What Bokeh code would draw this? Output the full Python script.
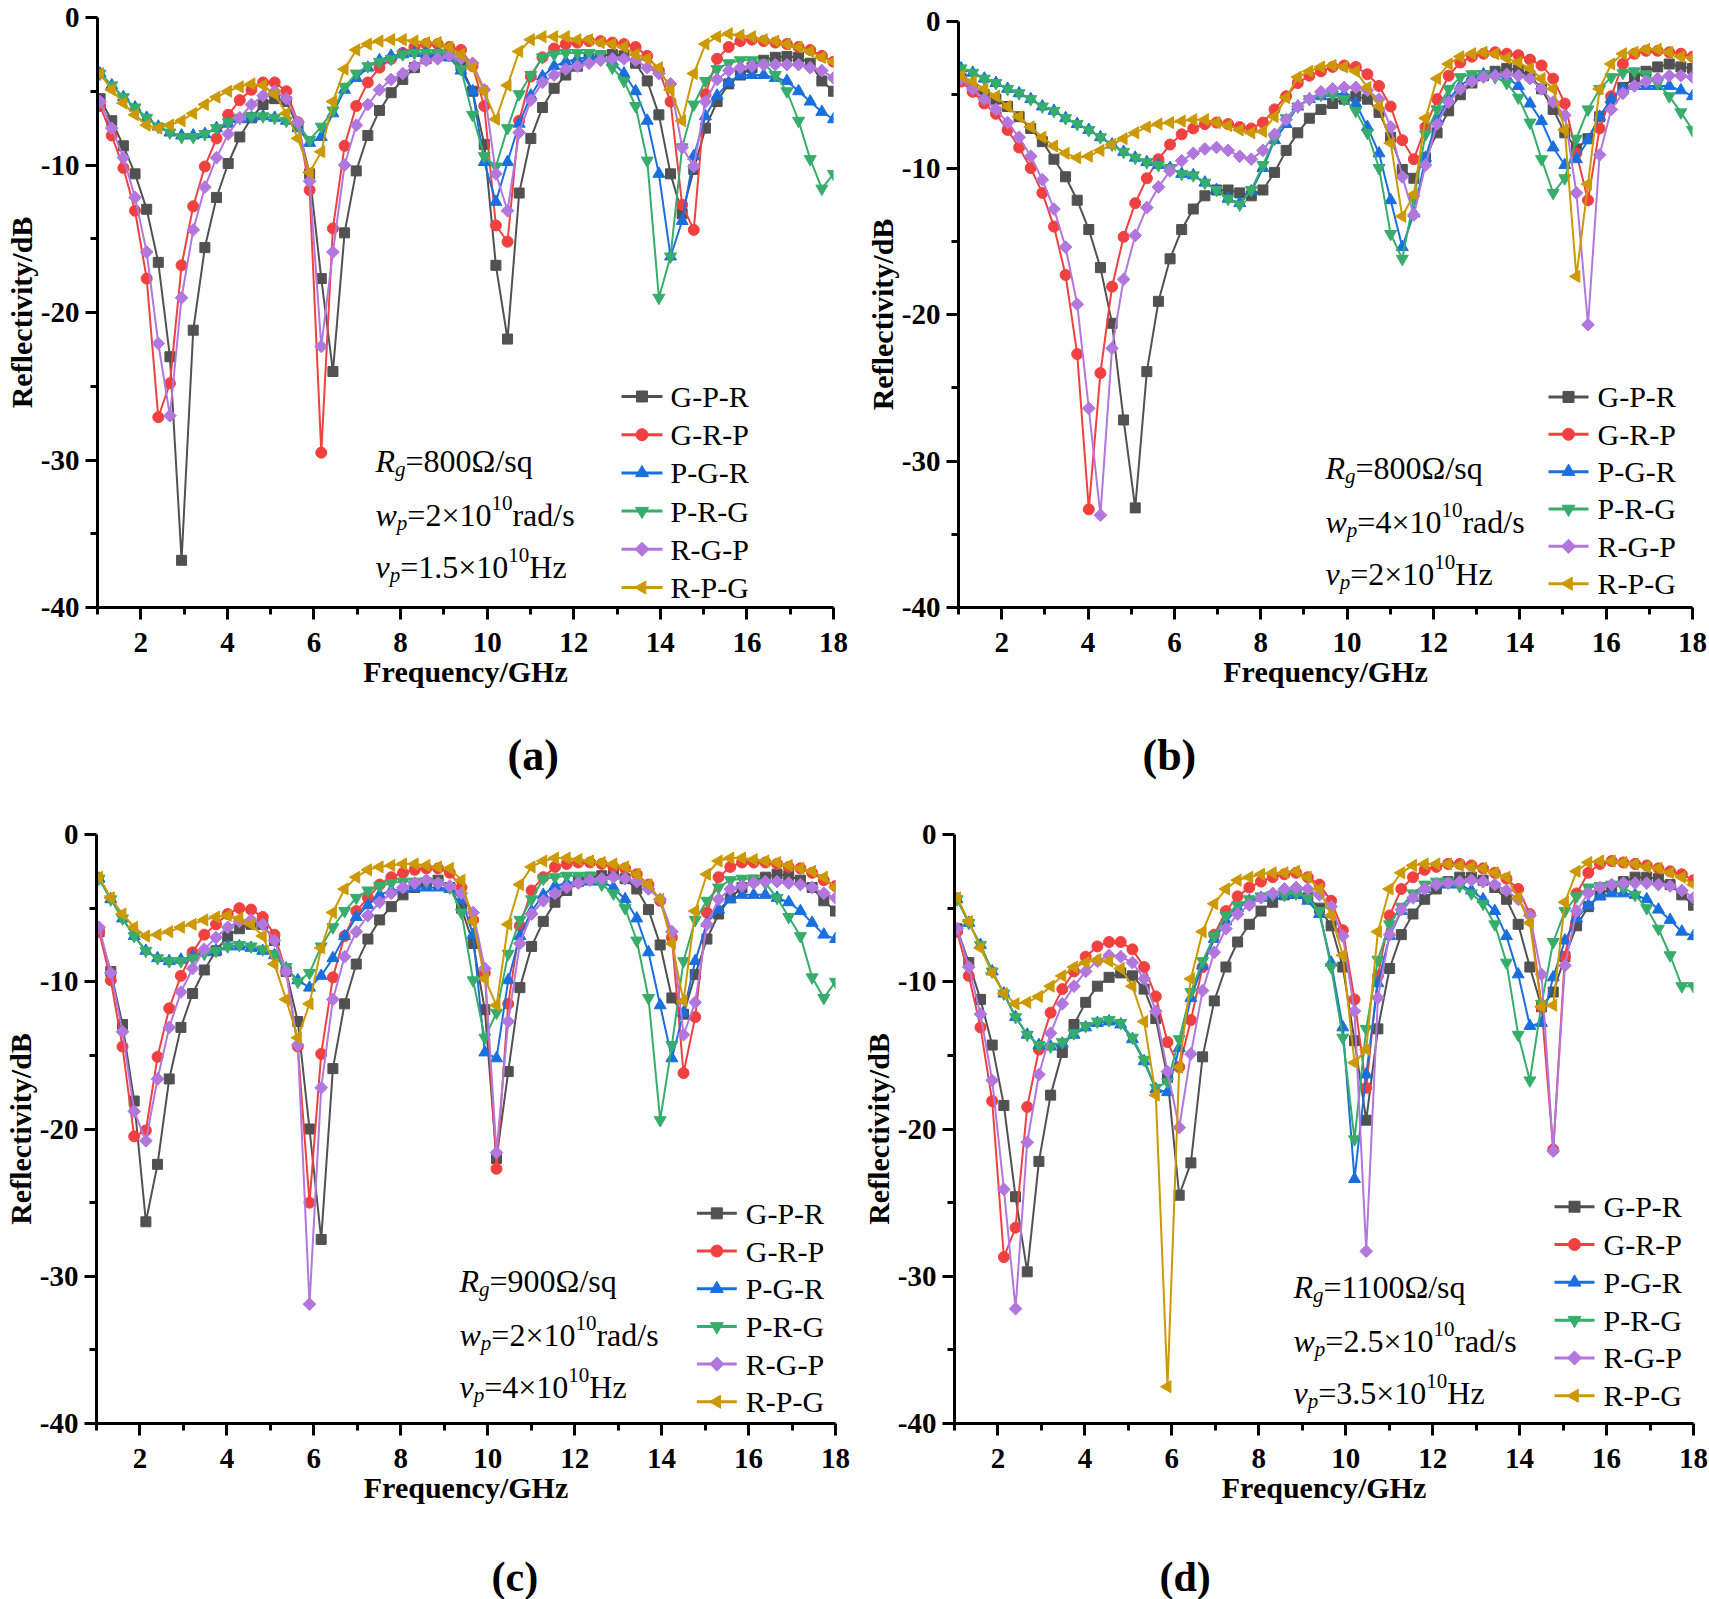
import numpy as np
from bokeh.plotting import figure
from bokeh.layouts import column, row
from bokeh.models import Range1d, FixedTicker, Label, Title, CustomJSTickFormatter
from bokeh.embed import file_html
from bokeh.resources import INLINE

# Sampled frequency grid (GHz)
FREQ = np.round(np.linspace(1.06, 18.0, 64), 3)

ORDERS = ["G-P-R", "G-R-P", "P-G-R", "P-R-G", "R-G-P", "R-P-G"]
COLORS = ["#515151", "#F14040", "#1A6FDF", "#37AD6B", "#B177DE", "#CC9900"]

# ---- (a) Rg=800, wp=2e10, vp=1.5e10 ----
A_GPR = [-5.5, -7.0, -8.7, -10.6, -13.0, -16.6, -23.0, -36.8, -21.2, -15.6,
         -12.2, -9.9, -8.1, -6.8, -5.9, -5.5, -5.7, -7.4, -10.6, -17.7,
         -24.0, -14.6, -10.4, -8.0, -6.3, -5.1, -4.2, -3.4, -2.8, -2.6,
         -2.6, -3.3, -5.0, -8.6, -16.8, -21.8, -11.9, -8.2, -6.1, -4.8,
         -3.9, -3.3, -2.8, -2.6, -2.5, -2.6, -3.1, -4.3, -6.6, -10.6,
         -13.3, -10.3, -7.5, -5.7, -4.5, -3.9, -3.4, -2.9, -2.7, -2.65,
         -2.7, -3.1, -4.3, -5.0]
A_GRP = [-6.0, -8.0, -10.2, -13.1, -17.7, -27.1, -24.8, -16.8, -12.8, -10.1,
         -8.2, -6.6, -5.6, -4.9, -4.4, -4.4, -5.0, -7.1, -11.7, -29.5,
         -14.3, -8.7, -6.0, -4.4, -3.4, -2.8, -2.4, -2.0, -1.8, -1.8,
         -2.0, -2.2, -3.3, -6.0, -14.1, -15.2, -7.0, -4.0, -2.7, -2.1,
         -1.8, -1.7, -1.6, -1.6, -1.7, -1.8, -2.0, -2.6, -3.6, -5.7,
         -12.7, -14.4, -5.2, -2.8, -2.0, -1.6, -1.5, -1.6, -1.7, -1.8,
         -2.0, -2.2, -2.6, -3.0]
A_PGR = [-3.8, -4.6, -5.4, -6.1, -6.8, -7.4, -7.8, -8.0, -8.0, -7.9,
         -7.5, -7.2, -6.9, -6.8, -6.7, -6.8, -7.0, -7.5, -8.5, -8.1,
         -6.5, -4.9, -4.1, -3.4, -2.9, -2.6, -2.5, -2.4, -2.4, -2.5,
         -2.7, -3.6, -5.0, -9.8, -12.5, -9.8, -7.2, -5.3, -4.0, -3.3,
         -3.0, -2.8, -2.7, -2.7, -3.0, -3.8, -5.0, -7.0, -10.6, -16.2,
         -13.8, -9.4, -6.7, -5.3, -4.4, -3.9, -3.9, -3.9, -4.1, -4.3,
         -5.0, -5.7, -6.4, -6.9]
A_PRG = [-3.8, -4.6, -5.4, -6.1, -6.8, -7.4, -7.8, -8.1, -8.1, -7.9,
         -7.5, -7.1, -6.8, -6.7, -6.7, -6.8, -7.0, -7.3, -8.3, -7.4,
         -6.3, -4.7, -3.8, -3.3, -3.0, -2.8, -2.5, -2.4, -2.4, -2.4,
         -2.5, -3.5, -6.6, -9.4, -10.1, -7.5, -5.2, -3.9, -2.7, -2.5,
         -2.4, -2.4, -2.4, -2.5, -3.4, -4.3, -6.0, -9.7, -19.0, -16.2,
         -8.8, -5.9, -4.3, -3.5, -3.1, -2.9, -2.9, -3.1, -3.9, -5.0,
         -7.0, -9.6, -11.6, -10.6]
A_RGP = [-5.7, -7.5, -9.5, -12.2, -15.9, -22.1, -27.0, -19.0, -14.4, -11.5,
         -9.5, -7.9, -6.8, -5.9, -5.3, -5.0, -5.5, -7.1, -11.1, -22.3,
         -15.9, -10.0, -7.3, -5.9, -4.9, -4.2, -3.8, -3.3, -2.9, -2.8,
         -2.6, -2.8, -3.1, -4.9, -10.6, -13.1, -7.8, -5.6, -4.4, -3.9,
         -3.5, -3.3, -3.1, -2.9, -2.8, -2.8, -2.9, -3.4, -3.8, -4.5,
         -8.8, -10.1, -5.7, -4.2, -3.6, -3.4, -3.3, -3.2, -3.2, -3.2,
         -3.2, -3.4, -3.6, -4.1]
A_RPG = [-3.8, -4.9, -5.8, -6.6, -7.3, -7.5, -7.3, -7.0, -6.5, -5.9,
         -5.4, -5.0, -4.7, -4.5, -4.6, -5.2, -6.5, -8.2, -10.5, -9.1,
         -5.7, -3.5, -2.2, -1.8, -1.6, -1.5, -1.5, -1.6, -1.7, -1.7,
         -2.0, -2.5, -3.4, -5.0, -6.9, -4.6, -2.3, -1.5, -1.3, -1.3,
         -1.3, -1.5, -1.5, -1.7, -1.8, -2.0, -2.5, -2.8, -3.4, -4.9,
         -7.0, -3.8, -1.8, -1.3, -1.1, -1.2, -1.3, -1.5, -1.6, -1.8,
         -2.0, -2.3, -2.7, -3.0]

# ---- (b) Rg=800, wp=4e10, vp=2e10 ----
B_GPR = [-3.9, -4.6, -5.0, -5.3, -5.8, -6.5, -7.3, -8.2, -9.4, -10.6,
         -12.2, -14.2, -16.8, -20.6, -27.2, -33.2, -23.9, -19.1, -16.2, -14.2,
         -12.8, -11.9, -11.5, -11.5, -11.7, -11.9, -11.5, -10.3, -8.8, -7.6,
         -6.6, -6.0, -5.6, -5.3, -5.1, -5.3, -6.2, -7.9, -10.1, -10.7,
         -9.3, -7.6, -6.1, -5.0, -4.2, -3.7, -3.4, -3.2, -3.3, -3.7,
         -4.6, -6.0, -7.6, -8.7, -8.0, -6.5, -5.3, -4.5, -3.8, -3.4,
         -3.1, -2.9, -3.1, -3.2]
B_GRP = [-4.1, -4.8, -5.6, -6.3, -7.4, -8.6, -10.0, -11.7, -14.0, -17.3,
         -22.7, -33.3, -24.0, -18.1, -14.7, -12.4, -10.7, -9.4, -8.4, -7.7,
         -7.3, -7.0, -6.9, -7.0, -7.2, -7.3, -6.9, -6.0, -5.1, -4.2,
         -3.7, -3.4, -3.1, -3.0, -3.1, -3.6, -4.4, -5.8, -8.1, -9.4,
         -7.2, -5.3, -3.7, -2.8, -2.4, -2.2, -2.1, -2.2, -2.3, -2.6,
         -3.0, -3.9, -5.6, -9.0, -12.2, -7.3, -5.1, -2.9, -2.2, -2.0,
         -2.0, -2.1, -2.2, -2.4]
B_PGR = [-3.2, -3.5, -3.9, -4.2, -4.6, -4.9, -5.3, -5.8, -6.1, -6.6,
         -7.0, -7.4, -7.9, -8.4, -8.9, -9.3, -9.6, -9.8, -10.0, -10.4,
         -10.5, -11.0, -11.5, -12.1, -12.4, -11.6, -10.0, -8.1, -7.0, -5.8,
         -5.3, -5.1, -4.9, -5.0, -5.6, -7.2, -9.0, -12.2, -15.4, -13.1,
         -9.3, -6.7, -5.3, -4.4, -3.8, -3.6, -3.6, -3.8, -4.4, -5.6,
         -6.8, -8.6, -9.8, -9.4, -8.1, -6.5, -5.3, -4.6, -4.4, -4.4,
         -4.4, -4.4, -4.7, -5.1]
B_PRG = [-3.2, -3.5, -3.9, -4.2, -4.6, -4.9, -5.3, -5.8, -6.1, -6.6,
         -7.0, -7.4, -7.9, -8.4, -8.9, -9.3, -9.6, -9.8, -10.0, -10.4,
         -10.5, -11.0, -11.5, -12.1, -12.5, -11.5, -9.8, -8.0, -6.6, -5.8,
         -5.3, -5.0, -5.0, -5.3, -6.1, -7.6, -10.0, -14.5, -16.2, -12.1,
         -7.7, -6.0, -4.6, -3.8, -3.6, -3.6, -3.8, -4.2, -5.2, -6.9,
         -9.4, -11.7, -10.7, -8.0, -6.0, -4.6, -3.8, -3.5, -3.4, -3.6,
         -4.2, -5.1, -6.2, -7.4]
B_RGP = [-3.9, -4.6, -5.3, -6.0, -6.9, -7.9, -9.2, -10.8, -12.8, -15.4,
         -19.3, -26.4, -33.7, -22.3, -17.6, -14.6, -12.7, -11.3, -10.2, -9.5,
         -9.0, -8.7, -8.6, -8.8, -9.2, -9.4, -8.8, -7.7, -6.7, -5.8,
         -5.3, -4.8, -4.6, -4.5, -4.5, -4.7, -5.3, -7.2, -10.6, -13.2,
         -9.8, -7.0, -5.5, -4.6, -4.1, -3.8, -3.7, -3.6, -3.7, -3.9,
         -4.6, -5.5, -6.4, -11.7, -20.7, -9.1, -6.0, -4.9, -4.4, -4.1,
         -3.9, -3.7, -3.7, -3.8]
B_RPG = [-3.7, -4.1, -4.6, -5.1, -5.8, -6.5, -7.2, -7.9, -8.5, -9.0,
         -9.3, -9.2, -8.8, -8.4, -8.0, -7.6, -7.2, -7.0, -6.9, -6.8,
         -6.7, -6.7, -6.9, -7.1, -7.4, -7.6, -7.5, -6.5, -5.2, -3.8,
         -3.4, -3.1, -3.0, -3.1, -3.4, -4.5, -5.8, -8.3, -13.3, -11.8,
         -6.6, -3.9, -2.9, -2.4, -2.2, -2.1, -2.2, -2.5, -2.8, -3.2,
         -3.9, -4.6, -7.4, -17.4, -11.1, -4.6, -2.9, -2.2, -2.1, -1.9,
         -1.9, -2.1, -2.4, -2.5]

# ---- (c) Rg=900, wp=2e10, vp=4e10 ----
C_GPR = [-6.6, -9.3, -12.9, -18.1, -26.3, -22.4, -16.6, -13.1, -10.8, -9.2,
         -7.9, -6.9, -6.4, -6.1, -6.1, -7.2, -9.3, -12.7, -20.0, -27.5,
         -15.9, -11.5, -8.8, -7.1, -5.8, -4.9, -4.1, -3.6, -3.3, -3.1,
         -3.6, -5.0, -7.4, -11.9, -22.0, -16.1, -10.4, -7.6, -5.9, -4.6,
         -3.8, -3.2, -2.9, -2.8, -2.7, -3.0, -3.7, -5.1, -7.5, -11.1,
         -12.2, -9.5, -7.1, -5.4, -4.3, -3.6, -3.1, -2.9, -2.7, -2.8,
         -3.1, -3.6, -4.5, -5.2]
C_GRP = [-6.6, -9.9, -14.4, -20.5, -20.1, -15.1, -11.8, -9.6, -8.0, -6.8,
         -6.1, -5.4, -5.0, -5.1, -5.6, -6.8, -9.3, -14.4, -25.0, -14.9,
         -9.7, -6.9, -5.2, -4.3, -3.4, -2.9, -2.6, -2.4, -2.3, -2.3,
         -2.6, -3.6, -5.8, -9.4, -22.7, -11.5, -6.2, -3.8, -2.9, -2.2,
         -2.0, -1.9, -1.9, -2.0, -2.2, -2.3, -2.7, -3.4, -4.5, -7.0,
         -16.2, -12.4, -5.3, -2.9, -2.2, -1.9, -1.9, -1.9, -2.0, -2.2,
         -2.3, -2.6, -3.1, -3.5]
C_PGR = [-3.0, -4.4, -5.7, -6.9, -7.9, -8.4, -8.6, -8.5, -8.3, -8.0,
         -7.9, -7.6, -7.6, -7.7, -7.9, -8.2, -9.1, -9.9, -10.4, -9.6,
         -8.4, -6.9, -5.6, -4.8, -4.1, -3.8, -3.7, -3.6, -3.6, -3.6,
         -3.7, -4.4, -6.8, -14.8, -15.2, -9.9, -6.9, -5.2, -4.1, -3.5,
         -3.3, -3.2, -3.2, -3.2, -3.6, -4.4, -5.7, -8.0, -11.6, -15.2,
         -12.1, -8.6, -6.0, -5.1, -4.4, -4.1, -4.1, -4.1, -4.3, -4.6,
         -5.2, -6.0, -6.8, -7.1]
C_PRG = [-3.0, -4.4, -5.7, -6.9, -7.9, -8.4, -8.6, -8.6, -8.4, -8.1,
         -7.9, -7.6, -7.5, -7.6, -7.8, -8.1, -9.0, -10.0, -9.4, -7.6,
         -6.3, -5.2, -4.3, -3.8, -3.5, -3.3, -3.2, -3.2, -3.2, -3.3,
         -3.6, -5.3, -9.9, -13.8, -12.1, -8.1, -5.8, -4.4, -3.0, -2.9,
         -2.8, -2.8, -2.8, -3.4, -4.0, -5.0, -7.2, -11.1, -19.4, -14.3,
         -8.6, -5.8, -4.5, -3.6, -3.1, -3.0, -3.0, -3.3, -4.3, -5.6,
         -6.9, -9.7, -11.1, -10.0]
C_RGP = [-6.3, -9.4, -13.4, -18.8, -20.8, -16.6, -13.1, -10.7, -9.1, -7.8,
         -7.0, -6.3, -5.9, -5.8, -6.1, -7.2, -9.3, -14.3, -31.9, -17.2,
         -11.2, -8.3, -6.6, -5.5, -4.6, -4.0, -3.6, -3.3, -3.1, -3.3,
         -3.5, -4.0, -5.3, -9.1, -21.6, -12.7, -7.4, -5.4, -4.5, -4.0,
         -3.6, -3.3, -3.1, -3.0, -2.9, -3.0, -3.2, -3.7, -4.4, -6.6,
         -13.6, -11.4, -6.1, -4.4, -3.7, -3.5, -3.3, -3.2, -3.2, -3.3,
         -3.4, -3.6, -4.0, -4.3]
C_RPG = [-2.9, -4.3, -5.4, -6.3, -6.9, -6.8, -6.6, -6.3, -6.1, -5.8,
         -5.6, -5.5, -5.7, -6.1, -6.9, -8.8, -11.2, -13.8, -11.5, -7.7,
         -5.3, -3.7, -2.9, -2.4, -2.2, -2.1, -2.0, -2.0, -2.1, -2.2,
         -2.3, -3.1, -5.9, -9.8, -11.6, -6.1, -3.4, -2.2, -1.8, -1.6,
         -1.6, -1.7, -1.8, -1.9, -2.0, -2.2, -2.7, -3.4, -4.4, -7.4,
         -11.3, -5.2, -2.7, -1.8, -1.6, -1.6, -1.7, -1.8, -1.9, -2.1,
         -2.3, -2.5, -2.9, -3.6]

# ---- (d) Rg=1100, wp=2.5e10, vp=3.5e10 ----
D_GPR = [-6.4, -8.7, -11.2, -14.3, -18.4, -24.6, -29.7, -22.2, -17.7, -14.8,
         -12.9, -11.4, -10.3, -9.7, -9.4, -9.6, -10.5, -12.5, -16.5, -24.5,
         -22.3, -15.1, -11.3, -9.0, -7.3, -6.1, -5.2, -4.6, -4.1, -4.0,
         -4.3, -5.0, -6.2, -9.0, -14.0, -19.4, -13.2, -9.1, -6.8, -5.4,
         -4.4, -3.7, -3.2, -2.9, -2.9, -3.1, -3.6, -4.4, -6.1, -9.0,
         -11.7, -10.7, -8.3, -6.2, -4.9, -4.1, -3.6, -3.2, -2.9, -2.9,
         -3.0, -3.4, -4.1, -4.8]
D_GRP = [-6.6, -9.6, -13.1, -18.1, -28.7, -26.7, -18.5, -14.6, -12.1, -10.5,
         -9.3, -8.3, -7.6, -7.3, -7.3, -7.8, -9.0, -11.0, -14.1, -15.8,
         -12.6, -9.0, -6.8, -5.2, -4.2, -3.6, -3.2, -2.9, -2.7, -2.6,
         -2.9, -3.4, -4.5, -6.5, -11.2, -17.2, -9.6, -5.5, -3.7, -2.9,
         -2.4, -2.2, -2.0, -2.0, -2.1, -2.3, -2.6, -3.0, -3.7, -5.4,
         -11.7, -21.4, -8.3, -4.0, -2.6, -2.0, -1.8, -1.9, -2.0, -2.1,
         -2.3, -2.5, -2.7, -3.1]
D_PGR = [-4.4, -6.0, -7.5, -9.3, -10.8, -12.4, -13.6, -14.3, -14.4, -14.2,
         -13.6, -13.1, -12.8, -12.7, -12.9, -13.9, -15.4, -17.3, -17.5, -14.5,
         -11.1, -8.9, -7.1, -5.9, -5.0, -4.5, -4.3, -4.1, -4.1, -4.1,
         -4.5, -5.4, -8.7, -13.1, -23.4, -16.3, -10.1, -6.9, -5.2, -4.3,
         -3.7, -3.4, -3.4, -3.4, -3.8, -4.4, -5.2, -6.9, -9.5, -13.0,
         -12.8, -9.7, -7.2, -5.7, -4.8, -4.2, -4.0, -4.0, -4.1, -4.4,
         -5.1, -5.8, -6.6, -6.9]
D_PRG = [-4.4, -6.0, -7.5, -9.3, -10.8, -12.4, -13.6, -14.3, -14.4, -14.1,
         -13.5, -13.0, -12.7, -12.6, -12.8, -13.8, -15.3, -17.2, -16.8, -13.9,
         -10.7, -8.6, -6.9, -5.5, -4.8, -4.4, -4.2, -4.1, -4.1, -4.0,
         -4.3, -5.2, -9.0, -13.8, -20.7, -13.2, -8.5, -6.1, -4.9, -4.0,
         -3.4, -3.2, -3.2, -3.5, -4.0, -4.7, -6.1, -8.7, -13.6, -16.7,
         -11.5, -7.3, -5.2, -4.2, -3.6, -3.5, -3.4, -3.6, -4.1, -5.0,
         -6.4, -8.2, -10.3, -10.3]
D_RGP = [-6.4, -9.0, -12.2, -16.7, -24.1, -32.2, -20.9, -16.3, -13.5, -11.5,
         -10.3, -9.3, -8.6, -8.2, -8.3, -8.7, -9.8, -12.0, -16.1, -19.9,
         -14.9, -10.6, -8.0, -6.4, -5.4, -4.8, -4.3, -4.0, -3.7, -3.6,
         -3.7, -4.1, -4.9, -6.9, -12.0, -28.3, -11.1, -6.8, -5.1, -4.3,
         -3.7, -3.4, -3.3, -3.2, -3.1, -3.2, -3.4, -3.8, -4.4, -5.5,
         -9.5, -21.5, -8.9, -5.2, -4.0, -3.6, -3.4, -3.3, -3.3, -3.3,
         -3.4, -3.5, -3.8, -4.3]
D_RPG = [-4.3, -5.9, -7.7, -9.4, -10.8, -11.5, -11.4, -11.0, -10.3, -9.6,
         -9.0, -8.7, -8.5, -8.6, -9.1, -10.3, -12.7, -17.7, -37.5, -15.8,
         -9.8, -6.6, -4.7, -3.7, -3.1, -2.9, -2.7, -2.6, -2.6, -2.5,
         -2.9, -3.7, -5.5, -8.2, -15.5, -14.6, -6.6, -3.7, -2.6, -2.1,
         -2.0, -2.0, -2.0, -2.1, -2.2, -2.3, -2.6, -2.9, -4.3, -6.0,
         -11.7, -11.6, -4.6, -2.5, -1.9, -1.8, -1.8, -1.9, -2.0, -2.2,
         -2.3, -2.6, -2.9, -3.4]

RG_VALUES = ["800", "800", "900", "1100"]
WP_VALUES = ["2", "4", "2", "2.5"]
VP_VALUES = ["1.5", "2", "4", "3.5"]
TAGS = ["(a)", "(b)", "(c)", "(d)"]
PANEL_DATA = [
    [A_GPR, A_GRP, A_PGR, A_PRG, A_RGP, A_RPG],
    [B_GPR, B_GRP, B_PGR, B_PRG, B_RGP, B_RPG],
    [C_GPR, C_GRP, C_PGR, C_PRG, C_RGP, C_RPG],
    [D_GPR, D_GRP, D_PGR, D_PRG, D_RGP, D_RPG],
]

# marker shape, size, rotation for each stacking order
MARKER_STYLE = [
    ("square", 10, 0.0),
    ("circle", 11, 0.0),
    ("triangle", 12, 0.0),
    ("inverted_triangle", 12, 0.0),
    ("square", 9, np.pi / 4),      # diamond
    ("triangle", 12, np.pi / 2),   # left-pointing triangle
]

# panel geometry: canvas size, top margin shift, borders and frame (canvas px);
# key box (x0, x1, text x, first row y, row pitch), note anchor and caption
# (left x, font size, gap under the axis), positions within the panel's cell
GEOM = [
    dict(w=854, h=804, mt=-4, bl=97, bt=21, fw=736, fh=590,
         key=(621, 662, 670, 396, 38.2), note=(375, 460), cap=(507, 44, 34)),
    dict(w=855, h=800, mt=0, bl=104, bt=21, fw=734, fh=590,
         key=(694, 734, 743, 399, 37.6), note=(471, 471), cap=(288, 44, 34)),
    dict(w=854, h=799, mt=0, bl=94, bt=32, fw=741, fh=597,
         key=(696, 736, 745, 416, 38.2), note=(458, 485), cap=(489, 42, 41)),
    dict(w=855, h=799, mt=0, bl=100, bt=34, fw=739, fh=595,
         key=(700, 740, 749, 410, 38.2), note=(439, 491), cap=(305, 42, 41)),
]

SERIF = "Liberation Serif"
FS_MAIN = 32
FS_SMALL = 21

# advance widths (em) of the serif face
W_REG = {str(d): 0.5 for d in range(10)}
W_REG.update({".": 0.25, "=": 0.564, "\u00d7": 0.564, "\u03a9": 0.768, "/": 0.278,
              "s": 0.389, "q": 0.5, "r": 0.333, "a": 0.444, "d": 0.5, "H": 0.722,
              "z": 0.444})
W_ITA = {"R": 0.611, "g": 0.5, "w": 0.667, "v": 0.444, "p": 0.5}


def to_data(g, px, py):
    """Pixel position within a panel's cell -> that panel's data coordinates."""
    x = 1 + (px - g["bl"]) * 17.0 / g["fw"]
    y = -((py - g["mt"]) - g["bt"]) * 40.0 / g["fh"]
    return x, y


def note_line(p, x, y, dy, pieces):
    dx = 0.0
    for txt, kind in pieces:
        small = kind in ("sub", "sup")
        size = FS_SMALL if small else FS_MAIN
        italic = kind in ("i", "sub")
        shift = {"n": 0, "i": 0, "sub": -8, "sup": 12}[kind]
        p.add_layout(Label(x=x, y=y, x_offset=dx, y_offset=dy + shift,
                           text=txt, text_font=SERIF,
                           text_font_style="italic" if italic else "normal",
                           text_font_size=f"{size}px", text_baseline="alphabetic",
                           text_align="left", text_color="black"))
        table = W_ITA if italic else W_REG
        dx += sum(table.get(c, 0.5) for c in txt) * size


def make_panel(k):
    g = GEOM[k]
    br = g["w"] - g["bl"] - g["fw"]
    bb = g["h"] - g["bt"] - g["fh"]
    p = figure(width=g["w"], height=g["h"], x_range=Range1d(1, 18),
               y_range=Range1d(-40, 0), output_backend="svg",
               toolbar_location=None, title=None, min_border_left=g["bl"],
               min_border_right=br, min_border_top=g["bt"],
               min_border_bottom=bb, margin=(g["mt"], 0, 0, 0))
    p.outline_line_color = None
    p.xgrid.visible = False
    p.ygrid.visible = False
    p.background_fill_color = "white"
    p.border_fill_color = "white"

    p.xaxis.ticker = FixedTicker(ticks=list(range(2, 19, 2)),
                                 minor_ticks=list(range(1, 18, 2)))
    p.yaxis.ticker = FixedTicker(ticks=[-40, -30, -20, -10, 0],
                                 minor_ticks=[-35, -25, -15, -5])
    p.yaxis.formatter = CustomJSTickFormatter(code="return String(tick)")
    p.xaxis.axis_label = "Frequency/GHz"
    p.yaxis.axis_label = "Reflectivity/dB"
    for ax in (p.xaxis[0], p.yaxis[0]):
        ax.axis_line_width = 3
        ax.major_tick_line_width = 3
        ax.minor_tick_line_width = 3
        ax.major_tick_out = 12
        ax.major_tick_in = 0
        ax.minor_tick_out = 7
        ax.minor_tick_in = 0
        ax.major_label_text_font = SERIF
        ax.major_label_text_font_style = "bold"
        ax.major_label_text_font_size = "29px"
        ax.major_label_text_color = "black"
        ax.axis_label_text_font = SERIF
        ax.axis_label_text_font_style = "bold"
        ax.axis_label_text_font_size = "30px"
        ax.axis_label_text_color = "black"
    p.yaxis.major_label_standoff = 6
    p.yaxis.axis_label_standoff = 0
    p.xaxis.major_label_standoff = 13
    p.xaxis.axis_label_standoff = 0

    x0, x1, tx, ky, pitch = g["key"]
    for j, (name, color, ys, (mk, sz, ang)) in enumerate(
            zip(ORDERS, COLORS, PANEL_DATA[k], MARKER_STYLE)):
        p.line(FREQ, ys, line_color=color, line_width=2)
        p.scatter(FREQ, ys, marker=mk, size=sz, angle=ang,
                  fill_color=color, line_color=color, line_width=1)

        # key entry: short line with marker, then the stacking order name
        py = ky + j * pitch
        xa, ya = to_data(g, x0, py)
        xb, _ = to_data(g, x1, py)
        xt, _ = to_data(g, tx, py)
        p.line([xa, xb], [ya, ya], line_color=color, line_width=3)
        p.scatter([(xa + xb) / 2], [ya], marker=mk, size=sz + 1, angle=ang,
                  fill_color=color, line_color=color)
        p.add_layout(Label(x=xt, y=ya, text=name, text_font=SERIF,
                           text_font_size="30px", text_baseline="middle",
                           text_align="left", text_color="black"))

    nx, ny = to_data(g, *g["note"])
    note_line(p, nx, ny, 0, [("R", "i"), ("g", "sub"),
                             ("=" + RG_VALUES[k] + "\u03a9/sq", "n")])
    note_line(p, nx, ny, -54, [("w", "i"), ("p", "sub"),
                               ("=" + WP_VALUES[k] + "\u00d710", "n"),
                               ("10", "sup"), ("rad/s", "n")])
    note_line(p, nx, ny, -106, [("v", "i"), ("p", "sub"),
                                ("=" + VP_VALUES[k] + "\u00d710", "n"),
                                ("10", "sup"), ("Hz", "n")])

    # panel caption under the axis title, with a blank band above it
    off, size, gap = g["cap"]
    p.add_layout(Title(text="\u00a0", text_font_size="2px", standoff=gap), "below")
    p.add_layout(Title(text=TAGS[k], align="left", offset=off - g["bl"],
                       text_font=SERIF, text_font_style="bold",
                       text_font_size=f"{size}px", standoff=0,
                       text_color="black"), "below")
    return p


panels = [make_panel(k) for k in range(4)]
layout = column(row(panels[0], panels[1]), row(panels[2], panels[3]))

with open("out.html", "w") as fh:
    fh.write(file_html(layout, INLINE))
